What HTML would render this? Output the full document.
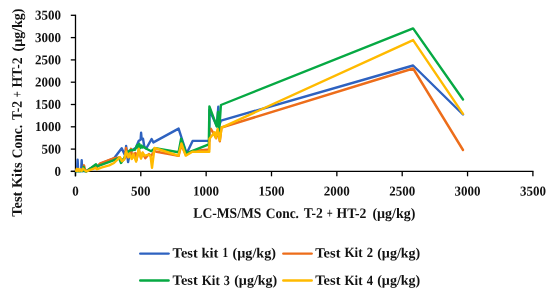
<!DOCTYPE html>
<html><head><meta charset="utf-8"><title>Chart</title>
<style>html,body{margin:0;padding:0;background:#fff}svg{display:block}</style></head>
<body><svg width="550" height="294" viewBox="0 0 550 294">
<rect width="550" height="294" fill="#fff"/>
<g stroke="#000" stroke-width="1.3" fill="none">
<line x1="75.5" y1="14.7" x2="75.5" y2="176.3"/>
<line x1="70.8" y1="171.4" x2="533.5" y2="171.4"/>
<line x1="70.8" y1="171.40" x2="75.5" y2="171.40"/>
<line x1="75.45" y1="171.4" x2="75.45" y2="176.3"/>
<line x1="70.8" y1="149.10" x2="75.5" y2="149.10"/>
<line x1="140.80" y1="171.4" x2="140.80" y2="176.3"/>
<line x1="70.8" y1="126.80" x2="75.5" y2="126.80"/>
<line x1="206.15" y1="171.4" x2="206.15" y2="176.3"/>
<line x1="70.8" y1="104.50" x2="75.5" y2="104.50"/>
<line x1="271.50" y1="171.4" x2="271.50" y2="176.3"/>
<line x1="70.8" y1="82.20" x2="75.5" y2="82.20"/>
<line x1="336.85" y1="171.4" x2="336.85" y2="176.3"/>
<line x1="70.8" y1="59.90" x2="75.5" y2="59.90"/>
<line x1="402.20" y1="171.4" x2="402.20" y2="176.3"/>
<line x1="70.8" y1="37.60" x2="75.5" y2="37.60"/>
<line x1="467.55" y1="171.4" x2="467.55" y2="176.3"/>
<line x1="70.8" y1="15.30" x2="75.5" y2="15.30"/>
<line x1="532.90" y1="171.4" x2="532.90" y2="176.3"/>
</g>
<g font-family="'Liberation Serif', serif" font-weight="bold" font-size="13.5px" fill="#111">
<text transform="translate(54.5,175.7) rotate(0.03)" textLength="6.5" lengthAdjust="spacingAndGlyphs">0</text>
<text transform="translate(72.2,195.4) rotate(0.03)" textLength="6.5" lengthAdjust="spacingAndGlyphs">0</text>
<text transform="translate(41.5,153.4) rotate(0.03)" textLength="19.5" lengthAdjust="spacingAndGlyphs">500</text>
<text transform="translate(131.1,195.4) rotate(0.03)" textLength="19.5" lengthAdjust="spacingAndGlyphs">500</text>
<text transform="translate(35.0,131.1) rotate(0.03)" textLength="26.0" lengthAdjust="spacingAndGlyphs">1000</text>
<text transform="translate(193.1,195.4) rotate(0.03)" textLength="26.0" lengthAdjust="spacingAndGlyphs">1000</text>
<text transform="translate(35.0,108.8) rotate(0.03)" textLength="26.0" lengthAdjust="spacingAndGlyphs">1500</text>
<text transform="translate(258.5,195.4) rotate(0.03)" textLength="26.0" lengthAdjust="spacingAndGlyphs">1500</text>
<text transform="translate(35.0,86.5) rotate(0.03)" textLength="26.0" lengthAdjust="spacingAndGlyphs">2000</text>
<text transform="translate(323.8,195.4) rotate(0.03)" textLength="26.0" lengthAdjust="spacingAndGlyphs">2000</text>
<text transform="translate(35.0,64.2) rotate(0.03)" textLength="26.0" lengthAdjust="spacingAndGlyphs">2500</text>
<text transform="translate(389.2,195.4) rotate(0.03)" textLength="26.0" lengthAdjust="spacingAndGlyphs">2500</text>
<text transform="translate(35.0,41.9) rotate(0.03)" textLength="26.0" lengthAdjust="spacingAndGlyphs">3000</text>
<text transform="translate(454.5,195.4) rotate(0.03)" textLength="26.0" lengthAdjust="spacingAndGlyphs">3000</text>
<text transform="translate(35.0,19.6) rotate(0.03)" textLength="26.0" lengthAdjust="spacingAndGlyphs">3500</text>
<text transform="translate(519.9,195.4) rotate(0.03)" textLength="26.0" lengthAdjust="spacingAndGlyphs">3500</text>
<text transform="translate(193.3,217.8) rotate(0.03)" font-size="14.5px"><tspan x="0.0" textLength="68.1" lengthAdjust="spacingAndGlyphs">LC-MS/MS</tspan> <tspan x="72.4" textLength="33.3" lengthAdjust="spacingAndGlyphs">Conc.</tspan> <tspan x="110.5" textLength="19.1" lengthAdjust="spacingAndGlyphs">T-2</tspan> <tspan x="133.4" textLength="6.0" lengthAdjust="spacingAndGlyphs">+</tspan> <tspan x="143.2" textLength="30.0" lengthAdjust="spacingAndGlyphs">HT-2</tspan> <tspan x="179.1" textLength="43.0" lengthAdjust="spacingAndGlyphs">(µg/kg)</tspan></text>
<text transform="translate(21.8,216.8) rotate(-89.97)" font-size="14.5px"><tspan x="0.0" textLength="54.3" lengthAdjust="spacingAndGlyphs">Test Kits</tspan> <tspan x="58.6" textLength="33.3" lengthAdjust="spacingAndGlyphs">Conc.</tspan> <tspan x="96.7" textLength="19.1" lengthAdjust="spacingAndGlyphs">T-2</tspan> <tspan x="119.6" textLength="6.0" lengthAdjust="spacingAndGlyphs">+</tspan> <tspan x="129.4" textLength="30.0" lengthAdjust="spacingAndGlyphs">HT-2</tspan> <tspan x="165.3" textLength="43.0" lengthAdjust="spacingAndGlyphs">(µg/kg)</tspan></text>
<text transform="translate(172.6,257.4) rotate(0.03)" font-size="14.0px"><tspan x="0.0" textLength="25.1" lengthAdjust="spacingAndGlyphs">Test</tspan> <tspan x="28.9" textLength="16.9" lengthAdjust="spacingAndGlyphs">kit</tspan> <tspan x="50.0" textLength="5.6" lengthAdjust="spacingAndGlyphs">1</tspan> <tspan x="59.9" textLength="43.5" lengthAdjust="spacingAndGlyphs">(µg/kg)</tspan></text>
<text transform="translate(315.3,257.4) rotate(0.03)" font-size="14.0px"><tspan x="0.0" textLength="25.2" lengthAdjust="spacingAndGlyphs">Test</tspan> <tspan x="29.2" textLength="18.0" lengthAdjust="spacingAndGlyphs">Kit</tspan> <tspan x="51.4" textLength="6.3" lengthAdjust="spacingAndGlyphs">2</tspan> <tspan x="61.9" textLength="43.1" lengthAdjust="spacingAndGlyphs">(µg/kg)</tspan></text>
<text transform="translate(172.6,284.8) rotate(0.03)" font-size="14.0px"><tspan x="0.0" textLength="25.1" lengthAdjust="spacingAndGlyphs">Test</tspan> <tspan x="29.2" textLength="18.0" lengthAdjust="spacingAndGlyphs">Kit</tspan> <tspan x="51.2" textLength="6.1" lengthAdjust="spacingAndGlyphs">3</tspan> <tspan x="61.6" textLength="43.1" lengthAdjust="spacingAndGlyphs">(µg/kg)</tspan></text>
<text transform="translate(315.3,284.8) rotate(0.03)" font-size="14.0px"><tspan x="0.0" textLength="25.2" lengthAdjust="spacingAndGlyphs">Test</tspan> <tspan x="29.2" textLength="18.0" lengthAdjust="spacingAndGlyphs">Kit</tspan> <tspan x="51.4" textLength="6.3" lengthAdjust="spacingAndGlyphs">4</tspan> <tspan x="61.9" textLength="43.1" lengthAdjust="spacingAndGlyphs">(µg/kg)</tspan></text>
</g>
<polyline fill="none" stroke="#2E62C0" stroke-width="2.4" stroke-linejoin="round" stroke-linecap="round" points="76.2,171.2 77.0,171.0 77.6,159.8 78.2,171.0 81.1,171.0 81.7,160.3 82.3,171.0 86.4,171.0 96.0,165.2 97.0,166.8 100.2,163.8 114.1,158.3 121.7,148.2 125.3,156.0 126.1,146.0 128.1,162.0 130.0,152.0 135.8,147.8 138.8,140.8 140.6,139.8 141.1,132.8 141.6,138.6 143.0,138.8 144.3,146.5 146.2,148.5 151.6,139.0 153.4,142.4 178.6,128.6 186.6,153.5 192.6,140.9 209.3,140.9 209.5,110.0 216.8,126.0 218.3,106.8 219.3,125.0 221.0,120.6 413.1,65.5 463.0,114.5"/>
<polyline fill="none" stroke="#ED6D1A" stroke-width="2.4" stroke-linejoin="round" stroke-linecap="round" points="76.2,170.5 82.8,170.0 84.0,165.3 85.2,170.5 86.4,171.0 96.0,165.2 97.0,166.8 100.2,163.4 114.1,158.2 120.0,157.5 121.5,161.0 125.0,158.0 126.0,148.0 127.6,157.0 129.5,156.0 131.0,148.8 132.3,158.0 133.0,154.0 135.5,153.0 136.5,160.0 138.8,150.0 141.0,158.0 142.6,153.0 145.3,158.3 149.0,154.0 151.0,156.0 154.6,151.0 156.7,151.8 178.6,155.9 181.2,145.0 186.0,155.0 192.0,151.3 209.0,149.5 209.5,131.0 210.9,128.8 216.2,138.2 218.0,130.0 219.8,141.4 221.5,127.5 413.1,68.5 463.0,150.0"/>
<polyline fill="none" stroke="#06A943" stroke-width="2.4" stroke-linejoin="round" stroke-linecap="round" points="76.2,171.3 82.5,171.0 83.6,167.0 84.8,171.0 86.3,171.5 96.0,164.3 97.0,166.3 113.5,160.4 119.0,157.8 121.0,163.0 124.0,158.5 126.5,153.0 130.1,150.3 135.0,149.8 137.3,145.0 138.3,148.0 139.3,143.8 140.5,148.0 141.6,145.5 142.6,147.5 143.4,146.8 145.9,148.5 151.3,151.2 154.6,148.3 156.7,148.5 178.6,152.2 181.1,138.6 186.3,153.4 208.8,144.4 209.4,106.4 216.8,126.5 218.0,112.0 219.2,131.0 220.9,105.0 413.1,28.4 463.0,99.5"/>
<polyline fill="none" stroke="#FFBA00" stroke-width="2.4" stroke-linejoin="round" stroke-linecap="round" points="76.2,170.9 76.8,168.8 77.6,170.9 78.6,169.0 79.6,170.9 80.6,169.2 81.8,170.7 83.0,168.6 84.4,169.8 86.2,171.4 95.9,167.8 96.7,169.3 102.0,167.3 109.2,165.4 114.0,163.0 119.9,157.2 121.9,161.2 124.2,159.5 126.2,151.4 128.5,157.4 129.6,153.6 131.7,159.0 133.4,154.1 136.1,161.7 138.8,148.7 141.0,158.6 142.6,152.4 144.4,155.6 149.1,154.6 150.6,156.5 152.0,167.8 154.5,148.0 178.4,155.6 181.4,143.5 185.7,155.6 192.3,151.8 209.3,151.8 209.5,138.8 214.6,132.2 215.8,138.0 217.6,129.0 219.8,140.3 221.6,127.6 413.1,40.1 463.0,113.8"/>
<line x1="140.2" y1="253.6" x2="168.6" y2="253.6" stroke="#2E62C0" stroke-width="2.4" stroke-linecap="round"/>
<line x1="283.3" y1="253.6" x2="311.7" y2="253.6" stroke="#ED6D1A" stroke-width="2.4" stroke-linecap="round"/>
<line x1="140.2" y1="280.5" x2="168.6" y2="280.5" stroke="#06A943" stroke-width="2.4" stroke-linecap="round"/>
<line x1="283.3" y1="280.5" x2="311.7" y2="280.5" stroke="#FFBA00" stroke-width="2.4" stroke-linecap="round"/>
</svg></body></html>
